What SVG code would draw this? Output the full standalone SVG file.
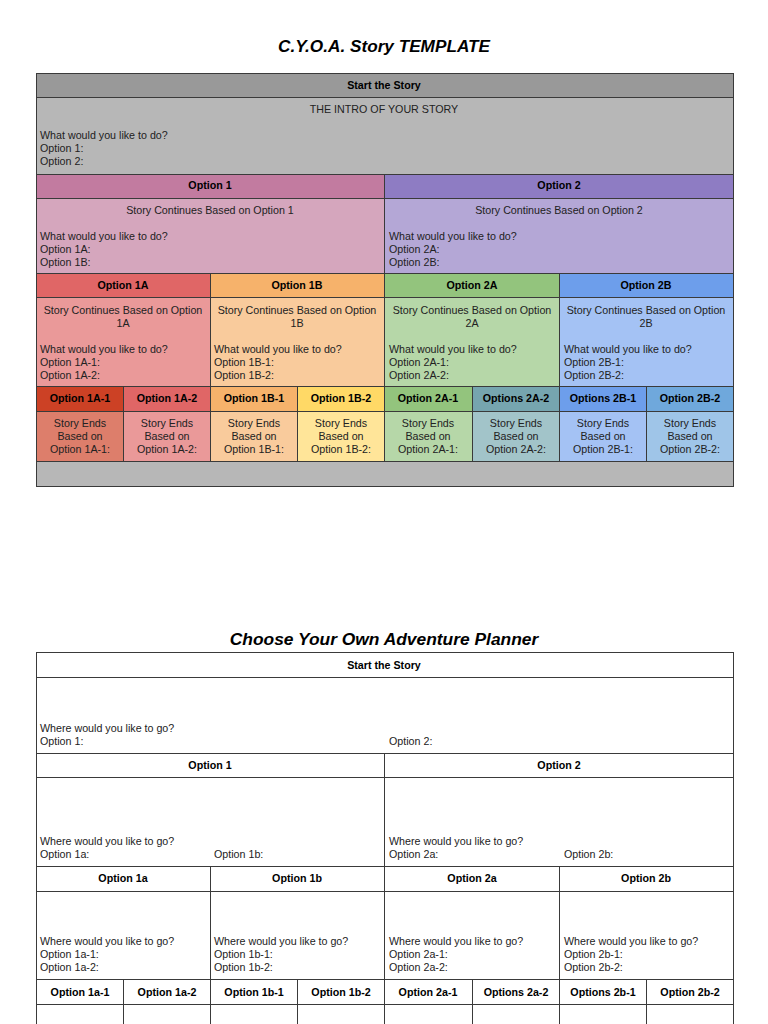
<svg xmlns="http://www.w3.org/2000/svg" width="768" height="1024" viewBox="0 0 768 1024">
<style>
.t{font-family:"Liberation Sans",Arial,sans-serif;font-size:10.7px;fill:#222}
.h{font-family:"Liberation Sans",Arial,sans-serif;font-size:10.7px;font-weight:bold;fill:#000;text-anchor:middle}
.c{text-anchor:middle}
.ttl{font-family:"Liberation Sans",Arial,sans-serif;font-weight:bold;font-style:italic;fill:#000;text-anchor:middle}
rect{stroke:#3a3a3a;stroke-width:1}
</style>
<rect x="0" y="0" width="768" height="1024" fill="#ffffff" style="stroke:none"/>
<text class="ttl" x="384" y="52" font-size="17.2">C.Y.O.A. Story TEMPLATE</text>

<g id="top-start"><rect x="36.5" y="73.5" width="697" height="24" fill="#999999"/><text class="h" x="384" y="89">Start the Story</text></g>
<g id="top-intro"><rect x="36.5" y="97.5" width="697" height="77" fill="#b7b7b7"/>
<text class="t c" x="384" y="113">THE INTRO OF YOUR STORY</text>
<text class="t" x="40" y="139">What would you like to do?</text><text class="t" x="40" y="152">Option 1:</text><text class="t" x="40" y="165">Option 2:</text></g>

<g id="top-opt1"><rect x="36.5" y="174.5" width="348" height="24" fill="#c27ba0"/><text class="h" x="210" y="189">Option 1</text>
<rect x="36.5" y="198.5" width="348" height="75" fill="#d5a6bd"/>
<text class="t c" x="210" y="214">Story Continues Based on Option 1</text>
<text class="t" x="40" y="240">What would you like to do?</text><text class="t" x="40" y="253">Option 1A:</text><text class="t" x="40" y="266">Option 1B:</text></g>
<g id="top-opt2"><rect x="384.5" y="174.5" width="349" height="24" fill="#8e7cc3"/><text class="h" x="559" y="189">Option 2</text>
<rect x="384.5" y="198.5" width="349" height="75" fill="#b4a7d6"/>
<text class="t c" x="559" y="214">Story Continues Based on Option 2</text>
<text class="t" x="389" y="240">What would you like to do?</text><text class="t" x="389" y="253">Option 2A:</text><text class="t" x="389" y="266">Option 2B:</text></g>

<g id="top-opt1a"><rect x="36.5" y="273.5" width="174" height="24" fill="#e06666"/><text class="h" x="123" y="289">Option 1A</text>
<rect x="36.5" y="297.5" width="174" height="89" fill="#ea9999"/>
<text class="t c" x="123" y="314">Story Continues Based on Option</text><text class="t c" x="123" y="327">1A</text>
<text class="t" x="40" y="353">What would you like to do?</text><text class="t" x="40" y="366">Option 1A-1:</text><text class="t" x="40" y="379">Option 1A-2:</text></g>
<g id="top-opt1b"><rect x="210.5" y="273.5" width="174" height="24" fill="#f6b26b"/><text class="h" x="297" y="289">Option 1B</text>
<rect x="210.5" y="297.5" width="174" height="89" fill="#f9cb9c"/>
<text class="t c" x="297" y="314">Story Continues Based on Option</text><text class="t c" x="297" y="327">1B</text>
<text class="t" x="214" y="353">What would you like to do?</text><text class="t" x="214" y="366">Option 1B-1:</text><text class="t" x="214" y="379">Option 1B-2:</text></g>
<g id="top-opt2a"><rect x="384.5" y="273.5" width="175" height="24" fill="#93c47d"/><text class="h" x="472" y="289">Option 2A</text>
<rect x="384.5" y="297.5" width="175" height="89" fill="#b6d7a8"/>
<text class="t c" x="472" y="314">Story Continues Based on Option</text><text class="t c" x="472" y="327">2A</text>
<text class="t" x="389" y="353">What would you like to do?</text><text class="t" x="389" y="366">Option 2A-1:</text><text class="t" x="389" y="379">Option 2A-2:</text></g>
<g id="top-opt2b"><rect x="559.5" y="273.5" width="174" height="24" fill="#6d9eeb"/><text class="h" x="646" y="289">Option 2B</text>
<rect x="559.5" y="297.5" width="174" height="89" fill="#a4c2f4"/>
<text class="t c" x="646" y="314">Story Continues Based on Option</text><text class="t c" x="646" y="327">2B</text>
<text class="t" x="564" y="353">What would you like to do?</text><text class="t" x="564" y="366">Option 2B-1:</text><text class="t" x="564" y="379">Option 2B-2:</text></g>

<g id="top-1a1"><rect x="36.5" y="386.5" width="87" height="25" fill="#cc4125"/><text class="h" x="80" y="402">Option 1A-1</text>
<rect x="36.5" y="411.5" width="87" height="50" fill="#dd7e6b"/>
<text class="t c" x="80" y="427">Story Ends</text><text class="t c" x="80" y="440">Based on</text><text class="t c" x="80" y="453">Option 1A-1:</text></g>
<g id="top-1a2"><rect x="123.5" y="386.5" width="87" height="25" fill="#e06666"/><text class="h" x="167" y="402">Option 1A-2</text>
<rect x="123.5" y="411.5" width="87" height="50" fill="#ea9999"/>
<text class="t c" x="167" y="427">Story Ends</text><text class="t c" x="167" y="440">Based on</text><text class="t c" x="167" y="453">Option 1A-2:</text></g>
<g id="top-1b1"><rect x="210.5" y="386.5" width="87" height="25" fill="#f6b26b"/><text class="h" x="254" y="402">Option 1B-1</text>
<rect x="210.5" y="411.5" width="87" height="50" fill="#f9cb9c"/>
<text class="t c" x="254" y="427">Story Ends</text><text class="t c" x="254" y="440">Based on</text><text class="t c" x="254" y="453">Option 1B-1:</text></g>
<g id="top-1b2"><rect x="297.5" y="386.5" width="87" height="25" fill="#ffd966"/><text class="h" x="341" y="402">Option 1B-2</text>
<rect x="297.5" y="411.5" width="87" height="50" fill="#ffe599"/>
<text class="t c" x="341" y="427">Story Ends</text><text class="t c" x="341" y="440">Based on</text><text class="t c" x="341" y="453">Option 1B-2:</text></g>
<g id="top-2a1"><rect x="384.5" y="386.5" width="88" height="25" fill="#93c47d"/><text class="h" x="428" y="402">Option 2A-1</text>
<rect x="384.5" y="411.5" width="88" height="50" fill="#b6d7a8"/>
<text class="t c" x="428" y="427">Story Ends</text><text class="t c" x="428" y="440">Based on</text><text class="t c" x="428" y="453">Option 2A-1:</text></g>
<g id="top-2a2"><rect x="472.5" y="386.5" width="87" height="25" fill="#76a5af"/><text class="h" x="516" y="402">Options 2A-2</text>
<rect x="472.5" y="411.5" width="87" height="50" fill="#a2c4c9"/>
<text class="t c" x="516" y="427">Story Ends</text><text class="t c" x="516" y="440">Based on</text><text class="t c" x="516" y="453">Option 2A-2:</text></g>
<g id="top-2b1"><rect x="559.5" y="386.5" width="87" height="25" fill="#6d9eeb"/><text class="h" x="603" y="402">Options 2B-1</text>
<rect x="559.5" y="411.5" width="87" height="50" fill="#a4c2f4"/>
<text class="t c" x="603" y="427">Story Ends</text><text class="t c" x="603" y="440">Based on</text><text class="t c" x="603" y="453">Option 2B-1:</text></g>
<g id="top-2b2"><rect x="646.5" y="386.5" width="87" height="25" fill="#6fa8dc"/><text class="h" x="690" y="402">Option 2B-2</text>
<rect x="646.5" y="411.5" width="87" height="50" fill="#9fc5e8"/>
<text class="t c" x="690" y="427">Story Ends</text><text class="t c" x="690" y="440">Based on</text><text class="t c" x="690" y="453">Option 2B-2:</text></g>
<g id="top-footer"><rect x="36.5" y="461.5" width="697" height="25" fill="#b7b7b7"/></g>

<text class="ttl" x="384" y="645" font-size="17.4">Choose Your Own Adventure Planner</text>

<g id="bot-start"><rect x="36.5" y="652.5" width="697" height="25" fill="#ffffff"/><text class="h" x="384" y="669">Start the Story</text></g>
<g id="bot-intro"><rect x="36.5" y="677.5" width="697" height="76" fill="#ffffff"/>
<text class="t" x="40" y="732">Where would you like to go?</text><text class="t" x="40" y="745">Option 1:</text><text class="t" x="389" y="745">Option 2:</text></g>

<g id="bot-opt1"><rect x="36.5" y="753.5" width="348" height="24" fill="#ffffff"/><text class="h" x="210" y="769">Option 1</text>
<rect x="36.5" y="777.5" width="348" height="89" fill="#ffffff"/>
<text class="t" x="40" y="845">Where would you like to go?</text><text class="t" x="40" y="858">Option 1a:</text><text class="t" x="214" y="858">Option 1b:</text></g>
<g id="bot-opt2"><rect x="384.5" y="753.5" width="349" height="24" fill="#ffffff"/><text class="h" x="559" y="769">Option 2</text>
<rect x="384.5" y="777.5" width="349" height="89" fill="#ffffff"/>
<text class="t" x="389" y="845">Where would you like to go?</text><text class="t" x="389" y="858">Option 2a:</text><text class="t" x="564" y="858">Option 2b:</text></g>

<g id="bot-opt1a"><rect x="36.5" y="866.5" width="174" height="25" fill="#ffffff"/><text class="h" x="123" y="882">Option 1a</text>
<rect x="36.5" y="891.5" width="174" height="88" fill="#ffffff"/>
<text class="t" x="40" y="945">Where would you like to go?</text><text class="t" x="40" y="958">Option 1a-1:</text><text class="t" x="40" y="971">Option 1a-2:</text></g>
<g id="bot-opt1b"><rect x="210.5" y="866.5" width="174" height="25" fill="#ffffff"/><text class="h" x="297" y="882">Option 1b</text>
<rect x="210.5" y="891.5" width="174" height="88" fill="#ffffff"/>
<text class="t" x="214" y="945">Where would you like to go?</text><text class="t" x="214" y="958">Option 1b-1:</text><text class="t" x="214" y="971">Option 1b-2:</text></g>
<g id="bot-opt2a"><rect x="384.5" y="866.5" width="175" height="25" fill="#ffffff"/><text class="h" x="472" y="882">Option 2a</text>
<rect x="384.5" y="891.5" width="175" height="88" fill="#ffffff"/>
<text class="t" x="389" y="945">Where would you like to go?</text><text class="t" x="389" y="958">Option 2a-1:</text><text class="t" x="389" y="971">Option 2a-2:</text></g>
<g id="bot-opt2b"><rect x="559.5" y="866.5" width="174" height="25" fill="#ffffff"/><text class="h" x="646" y="882">Option 2b</text>
<rect x="559.5" y="891.5" width="174" height="88" fill="#ffffff"/>
<text class="t" x="564" y="945">Where would you like to go?</text><text class="t" x="564" y="958">Option 2b-1:</text><text class="t" x="564" y="971">Option 2b-2:</text></g>

<g id="bot-1a1"><rect x="36.5" y="979.5" width="87" height="25" fill="#ffffff"/><text class="h" x="80" y="996">Option 1a-1</text><rect x="36.5" y="1004.5" width="87" height="40" fill="#ffffff"/></g>
<g id="bot-1a2"><rect x="123.5" y="979.5" width="87" height="25" fill="#ffffff"/><text class="h" x="167" y="996">Option 1a-2</text><rect x="123.5" y="1004.5" width="87" height="40" fill="#ffffff"/></g>
<g id="bot-1b1"><rect x="210.5" y="979.5" width="87" height="25" fill="#ffffff"/><text class="h" x="254" y="996">Option 1b-1</text><rect x="210.5" y="1004.5" width="87" height="40" fill="#ffffff"/></g>
<g id="bot-1b2"><rect x="297.5" y="979.5" width="87" height="25" fill="#ffffff"/><text class="h" x="341" y="996">Option 1b-2</text><rect x="297.5" y="1004.5" width="87" height="40" fill="#ffffff"/></g>
<g id="bot-2a1"><rect x="384.5" y="979.5" width="88" height="25" fill="#ffffff"/><text class="h" x="428" y="996">Option 2a-1</text><rect x="384.5" y="1004.5" width="88" height="40" fill="#ffffff"/></g>
<g id="bot-2a2"><rect x="472.5" y="979.5" width="87" height="25" fill="#ffffff"/><text class="h" x="516" y="996">Options 2a-2</text><rect x="472.5" y="1004.5" width="87" height="40" fill="#ffffff"/></g>
<g id="bot-2b1"><rect x="559.5" y="979.5" width="87" height="25" fill="#ffffff"/><text class="h" x="603" y="996">Options 2b-1</text><rect x="559.5" y="1004.5" width="87" height="40" fill="#ffffff"/></g>
<g id="bot-2b2"><rect x="646.5" y="979.5" width="87" height="25" fill="#ffffff"/><text class="h" x="690" y="996">Option 2b-2</text><rect x="646.5" y="1004.5" width="87" height="40" fill="#ffffff"/></g>

<g id="connectors"></g>
</svg>
